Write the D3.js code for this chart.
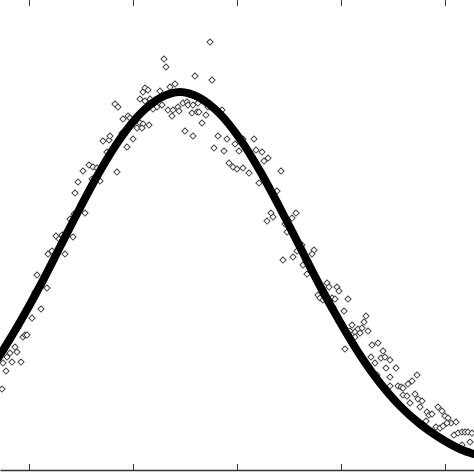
<!DOCTYPE html>
<meta charset="utf-8">
<style>
    body { margin: 0; background: #fff; }
    svg { display: block; }
    .axis path, .axis line { stroke: #333; }
    .points path { fill: #fff; stroke: #444; stroke-width: 1px; }
</style>
<svg width="474" height="474"></svg>
<script src="https://d3js.org/d3.v7.min.js"></script>
<script>
    var svg = d3.select("svg"),
        width = +svg.attr("width"),
        height = +svg.attr("height");

    // tick positions on the x axis (labels are cut off in the source)
    var xTicks = [29, 133, 237, 341, 445];

    // fitted curve
    var curveX = [-10, 0, 20, 40, 60, 80, 100, 120, 140, 160, 180, 200, 220, 240, 260, 280, 300, 320, 340, 360, 380, 400, 420, 440, 460, 480];
    var curveY = [100, 115, 148, 184, 223, 262, 299, 331, 356, 372, 378, 372, 356, 331, 299, 262, 223, 184, 148, 115, 87, 64, 46, 32, 21, 14];

    // measured points
    var pointX = [2, 6, 3, 12, 21, 7, 10, 15, 17, 23, 25, 27, 18, 32, 32, 41, 35, 40, 47, 37,
        48, 52, 65, 56, 62, 59, 73, 70, 74, 85, 75, 78, 92, 100, 83, 89, 93, 97, 117, 107,
        103, 109, 110, 127, 133, 122, 137, 140, 143, 149, 142, 123, 128, 130, 115, 118, 140, 145, 150, 143,
        145, 148, 160, 162, 157, 153, 164, 166, 170, 175, 168, 173, 172, 178, 183, 187, 188, 193, 198, 204,
        179, 185, 193, 192, 197, 195, 210, 212, 199, 206, 202, 208, 217, 222, 218, 227, 214, 224, 235, 239,
        243, 254, 256, 262, 268, 264, 229, 233, 237, 243, 249, 259, 281, 277, 271, 273, 267, 292, 296, 285,
        287, 302, 297, 314, 312, 283, 293, 303, 307, 327, 329, 337, 339, 318, 320, 323, 332, 335, 348, 333,
        344, 366, 364, 352, 350, 355, 358, 362, 368, 355, 360, 345, 372, 378, 383, 371, 375, 381, 385, 390,
        386, 396, 377, 390, 417, 412, 408, 390, 398, 401, 403, 403, 407, 415, 410, 418, 422, 420, 427, 429,
        432, 426, 438, 442, 445, 448, 451, 456, 447, 436, 440, 443, 454, 458, 462, 465, 468, 472, 462, 470];
    var pointY = [81, 99, 107, 108, 108, 113, 117, 123, 118, 133, 135, 135, 142, 152, 168, 161, 178, 183, 182, 195,
        216, 219, 216, 234, 235, 231, 233, 251, 256, 257, 277, 288, 291, 289, 299, 305, 303, 302, 298, 318,
        329, 330, 334, 323, 331, 337, 342, 347, 346, 345, 342, 351, 354, 352, 366, 363, 371, 369, 371, 378,
        382, 380, 379, 365, 363, 361, 411, 403, 383, 386, 360, 360, 354, 363, 367, 368, 365, 365, 367, 368,
        359, 339, 334, 357, 358, 394, 428, 390, 358, 355, 347, 363, 360, 360, 334, 331, 322, 319, 326, 319,
        331, 331, 320, 318, 312, 309, 307, 303, 301, 302, 297, 287, 299, 279, 257, 253, 249, 252, 257, 246,
        238, 225, 219, 220, 216, 210, 213, 205, 196, 187, 183, 183, 179, 175, 172, 170, 172, 171, 171, 163,
        159, 154, 148, 145, 139, 138, 141, 142, 139, 133, 137, 121, 125, 127, 119, 113, 107, 112, 113, 110,
        102, 102, 95, 93, 95, 89, 86, 84, 84, 83, 82, 75, 74, 76, 67, 71, 69, 63, 58, 55,
        56, 49, 63, 59, 54, 52, 47, 48, 47, 43, 42, 44, 35, 37, 38, 38, 38, 37, 25, 28];

    var x = d3.scaleLinear().domain([0, 474]).range([0, 474]);
    var y = d3.scaleLinear().domain([0, 470]).range([470, 0]);

    var points = pointX.map(function(d, i) { return {x: d, y: pointY[i]}; });
    var curve = curveX.map(function(d, i) { return {x: d, y: curveY[i]}; });

    var diamond = d3.symbol().type(d3.symbolSquare).size(19);

    svg.append("g")
        .attr("class", "points")
        .selectAll("path")
        .data(points)
        .enter().append("path")
        .attr("d", diamond)
        .attr("transform", function(d) { return "translate(" + x(d.x) + "," + y(d.y) + ") rotate(45)"; });

    var line = d3.line()
        .x(function(d) { return x(d.x); })
        .y(function(d) { return y(d.y); })
        .curve(d3.curveCatmullRom);

    svg.append("path")
        .datum(curve)
        .attr("fill", "none")
        .attr("stroke", "#000")
        .attr("stroke-width", 8)
        .attr("stroke-linejoin", "round")
        .attr("d", line);

    svg.append("g")
        .attr("class", "axis")
        .attr("transform", "translate(0," + y(0) + ")")
        .call(d3.axisBottom(x).tickValues(xTicks).tickSizeInner(-6).tickSizeOuter(0).tickFormat(""))
        .select(".domain").attr("stroke-width", 1.5);

    svg.append("g")
        .attr("class", "axis")
        .attr("transform", "translate(0,-1)")
        .call(d3.axisTop(x).tickValues(xTicks).tickSizeInner(-7).tickSizeOuter(0).tickFormat(""));
</script>
